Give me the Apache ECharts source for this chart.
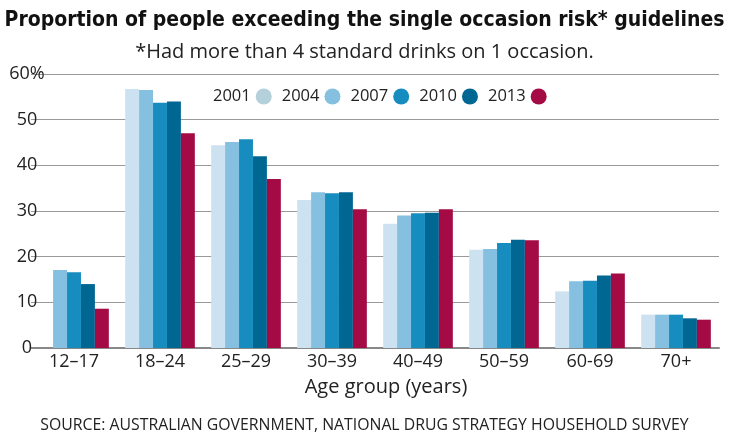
<!DOCTYPE html>
<html><head><meta charset="utf-8">
<script src="https://cdn.jsdelivr.net/npm/echarts@6/dist/echarts.min.js"></script>
<style>html,body{margin:0;padding:0;background:#fff}#c{width:729px;height:435px}</style>
</head><body><div id="c"></div>
<script>
const categories = ['12–17','18–24','25–29','30–39','40–49','50–59','60-69','70+'];
const years = ['2001','2004','2007','2010','2013'];
const s2001 = [null, 56.7, 44.4, 32.4, 27.2, 21.5, 12.4, 7.3];
const s2004 = [17.1, 56.5, 45.1, 34.1, 29.0, 21.7, 14.6, 7.3];
const s2007 = [16.6, 53.7, 45.7, 33.9, 29.5, 23.0, 14.7, 7.3];
const s2010 = [14.0, 54.0, 42.0, 34.1, 29.6, 23.7, 15.9, 6.5];
const s2013 = [8.6, 47.0, 37.0, 30.4, 30.4, 23.6, 16.3, 6.2];
const yTicks = [0,10,20,30,40,50,60];
const colors = ['#cce2f0','#85c0e0','#178dbf','#006793','#a40a44'];
const legendColors = ['#b3d0db','#85c0e0','#178dbf','#006793','#a40a44'];
const seriesData = [s2001,s2004,s2007,s2010,s2013];
const font = 'Open Sans';
const chart = echarts.init(document.getElementById('c'));
chart.setOption({
  animation:false,
  title:[
    {text:'Proportion of people exceeding the single occasion risk* guidelines',left:'center',top:5,
     textStyle:{fontFamily:'"DejaVu Sans Condensed", Roboto, sans-serif',fontWeight:'bold',fontSize:21,color:'#111'}},
    {text:'*Had more than 4 standard drinks on 1 occasion.',left:'center',top:37,
     textStyle:{fontFamily:font,fontWeight:'normal',fontSize:20,color:'#222'}},
    {text:'Age group (years)',left:381,textAlign:'center',top:372,
     textStyle:{fontFamily:font,fontWeight:'normal',fontSize:20,color:'#222'}},
    {text:'SOURCE: AUSTRALIAN GOVERNMENT, NATIONAL DRUG STRATEGY HOUSEHOLD SURVEY',left:'center',top:412,
     textStyle:{fontFamily:font,fontWeight:'normal',fontSize:15.8,color:'#222'}}
  ],
  legend:{
    top:83,left:208,align:'right',itemWidth:16,itemHeight:16,itemGap:10,icon:'circle',
    textStyle:{fontFamily:font,fontSize:16.5,color:'#222'},
    data:years.map((y,i)=>({name:y,itemStyle:{color:legendColors[i]}}))
  },
  grid:{left:31,right:10,top:74,bottom:87},
  xAxis:{type:'category',data:categories,
    axisLine:{lineStyle:{color:'#888',width:2}},axisTick:{show:false},
    axisLabel:{fontFamily:font,fontSize:18,color:'#222',margin:5}},
  yAxis:{type:'value',min:0,max:60,interval:10,
    axisLine:{show:false},axisTick:{show:false},
    splitLine:{lineStyle:{color:'#999',width:1}},
    axisLabel:{fontFamily:font,fontSize:18,color:'#222',align:'center',margin:4,
      formatter:v=>yTicks.includes(v)?(v===60?'60%':String(v)):''}},
  series:years.map((y,i)=>({name:y,type:'bar',data:seriesData[i],barGap:'0%',barCategoryGap:'19%',
    itemStyle:{color:colors[i]}}))
});
</script></body></html>
